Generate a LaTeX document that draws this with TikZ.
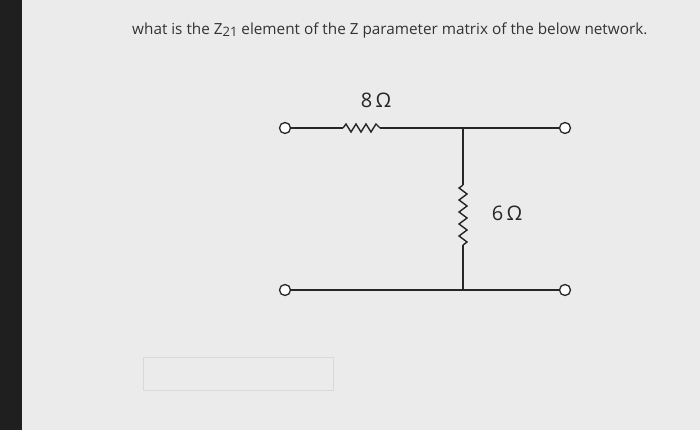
\documentclass[tikz,border=0pt]{standalone}
\usepackage{fontspec}
\setmainfont{Open Sans}
\begin{document}
\begin{tikzpicture}[x=1pt,y=-1pt,
  wire/.style={line width=1.4pt,black!85},
  term/.style={circle,draw=black!85,line width=1.3pt,fill=white,inner sep=0pt,minimum size=11pt},
  lbl/.style={font=\fontsize{20}{22}\selectfont,text=black!85}]
\fill[black!8] (0,0) rectangle (700,430);
\fill[black!88] (0,0) rectangle (22,430);
\draw[black!15,line width=0.6pt] (143,357) rectangle (333,390);
\node[anchor=west,font=\fontsize{15.3}{17}\selectfont,text=black!80,inner sep=0pt] (q) at (132,30) {what is the Z\raisebox{-0.25ex}{\fontsize{13}{14}\selectfont 21} element of the Z parameter matrix of the below network.};
\node[term] (a) at (285,128) {};
\node[term] (b) at (285,290) {};
\node[term] (c) at (565,128) {};
\node[term] (d) at (565,290) {};
\coordinate (r1a) at (343,128);
\coordinate (r1b) at (380,128);
\coordinate (j) at (463,128);
\coordinate (jb) at (463,290);
\coordinate (r2a) at (463,185);
\coordinate (r2b) at (463,245);
\draw[wire] (a) -- (r1a);
\draw[wire] (r1a) -- ++(3,-4) -- ++(5,8) -- ++(5,-8) -- ++(5,8) -- ++(5,-8) -- ++(5,8) -- ++(5,-8) -- (r1b);
\draw[wire] (r1b) -- (j) -- (c);
\draw[wire] (j) -- (r2a);
\draw[wire] (r2a) -- ++(-4,3) -- ++(8,6) -- ++(-8,6) -- ++(8,6) -- ++(-8,6) -- ++(8,6) -- ++(-8,6) -- ++(8,6) -- ++(-8,6) -- ++(8,6) -- (r2b);
\draw[wire] (r2b) -- (jb);
\draw[wire] (b) -- (d);
\node[lbl] (l1) at (376,100) {8\,Ω};
\node[lbl] (l2) at (507,213) {6\,Ω};
\end{tikzpicture}
\end{document}
